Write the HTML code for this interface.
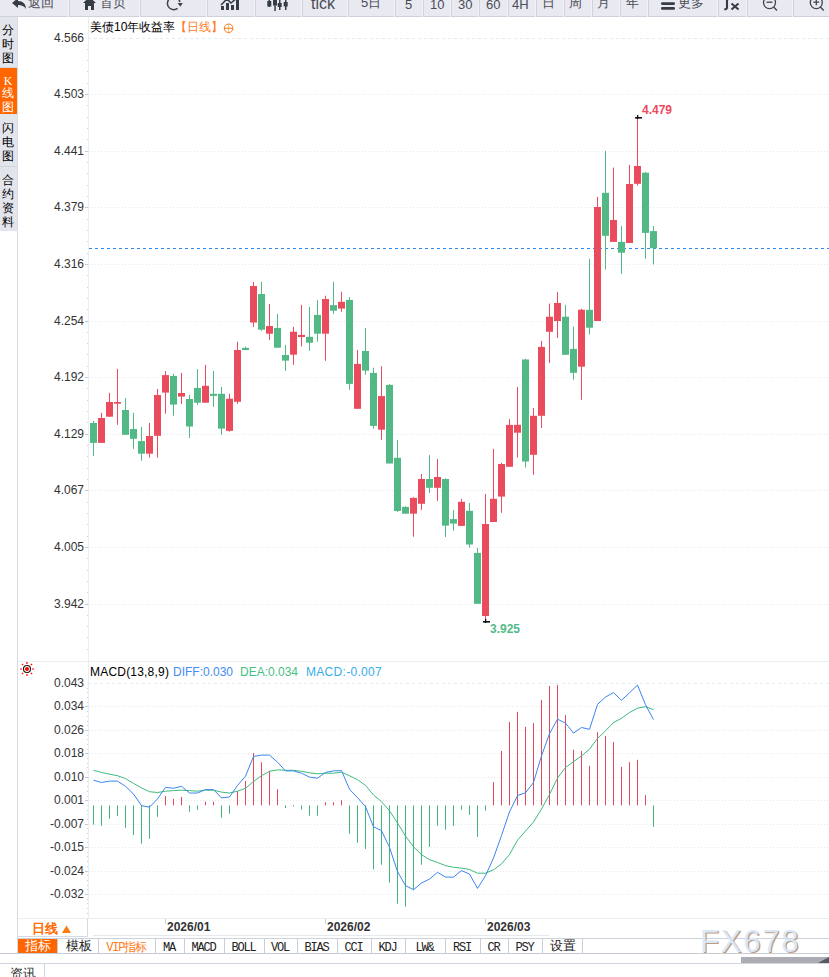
<!DOCTYPE html>
<html><head><meta charset="utf-8"><style>
html,body{margin:0;padding:0;width:829px;height:977px;overflow:hidden;background:#fff;font-family:"Liberation Sans",sans-serif;}
.a{position:absolute;}
svg text.ax{font-family:"Liberation Sans",sans-serif;font-size:12px;fill:#333;text-anchor:end;}
svg text.hl{font-family:"Liberation Sans",sans-serif;font-size:12px;font-weight:bold;}
#tb{left:0;top:0;width:829px;height:16px;background:#e9e9f2;border-bottom:1px solid #d0d1da;overflow:visible;}
#tb .s{position:absolute;top:0;width:1px;height:17px;background:#f2f2f7;border-right:1px solid #d0d1da;}
#tb .t{position:absolute;top:-5px;font-size:13px;color:#4a4d55;line-height:16px;white-space:nowrap;}
#sb{left:0;top:17px;width:17px;height:214px;background:#e3e5ec;border-right:1px solid #d8dce4;}
#sb .c{position:absolute;left:0;width:16px;font-size:12px;line-height:12px;text-align:center;}
</style></head><body>
<div id="tb" class="a">
<div class="s" style="left:68px"></div><div class="s" style="left:139px"></div><div class="s" style="left:206px"></div>
<div class="s" style="left:254px"></div><div class="s" style="left:301px"></div><div class="s" style="left:347px"></div>
<div class="s" style="left:394px"></div><div class="s" style="left:422px"></div><div class="s" style="left:450px"></div>
<div class="s" style="left:478px"></div><div class="s" style="left:507px"></div><div class="s" style="left:535px"></div>
<div class="s" style="left:563px"></div><div class="s" style="left:591px"></div><div class="s" style="left:619px"></div>
<div class="s" style="left:647px"></div><div class="s" style="left:717px"></div><div class="s" style="left:746px"></div>
<div class="s" style="left:792px"></div>
<div class="t" style="left:28px">返回</div>
<div class="t" style="left:100px">首页</div>
<div class="t" style="left:311px;font-size:16px;top:-4px">tick</div>
<div class="t" style="left:361px">5日</div>
<div class="t" style="left:405px;top:-3px">5</div>
<div class="t" style="left:430px;top:-3px">10</div>
<div class="t" style="left:458px;top:-3px">30</div>
<div class="t" style="left:486px;top:-3px">60</div>
<div class="t" style="left:512px;top:-3px">4H</div>
<div class="t" style="left:542px">日</div>
<div class="t" style="left:569px">周</div>
<div class="t" style="left:597px">月</div>
<div class="t" style="left:626px">年</div>
<div class="t" style="left:678px">更多</div>
</div>
<div id="sb" class="a">
<div class="a" style="left:0;top:50px;width:17px;height:1px;background:#d0d4dc"></div>
<div class="a" style="left:0;top:51px;width:17px;height:46px;background:#ff6600"></div>
<div class="a" style="left:0;top:149px;width:17px;height:1px;background:#d0d4dc"></div>
<div class="c" style="top:7px;color:#000;">分</div>
<div class="c" style="top:21px;color:#000;">时</div>
<div class="c" style="top:35px;color:#000;">图</div>
<div class="c" style="top:58px;color:#fff;font-family:'Liberation Serif',serif;">K</div>
<div class="c" style="top:70px;color:#fff;">线</div>
<div class="c" style="top:84px;color:#fff;">图</div>
<div class="c" style="top:105px;color:#000;">闪</div>
<div class="c" style="top:119px;color:#000;">电</div>
<div class="c" style="top:133px;color:#000;">图</div>
<div class="c" style="top:157px;color:#000;">合</div>
<div class="c" style="top:171px;color:#000;">约</div>
<div class="c" style="top:185px;color:#000;">资</div>
<div class="c" style="top:199px;color:#000;">料</div>
</div>
<svg class="a" style="left:0;top:0" width="829" height="977">
<rect x="88" y="17" width="1" height="901" fill="#eaeef3"/>
<line x1="88" y1="38.5" x2="829" y2="38.5" stroke="#e3e9ee" stroke-dasharray="3,3"/>
<text x="84" y="42" class="ax">4.566</text>
<line x1="89" y1="94.5" x2="829" y2="94.5" stroke="#e3e9ee" stroke-dasharray="1,2"/>
<rect x="85" y="94" width="3" height="1" fill="#c4cad3"/>
<text x="84" y="98" class="ax">4.503</text>
<line x1="89" y1="151.5" x2="829" y2="151.5" stroke="#e3e9ee" stroke-dasharray="1,2"/>
<rect x="85" y="151" width="3" height="1" fill="#c4cad3"/>
<text x="84" y="155" class="ax">4.441</text>
<line x1="89" y1="207.5" x2="829" y2="207.5" stroke="#e3e9ee" stroke-dasharray="1,2"/>
<rect x="85" y="207" width="3" height="1" fill="#c4cad3"/>
<text x="84" y="211" class="ax">4.379</text>
<line x1="89" y1="264.5" x2="829" y2="264.5" stroke="#e3e9ee" stroke-dasharray="1,2"/>
<rect x="85" y="264" width="3" height="1" fill="#c4cad3"/>
<text x="84" y="268" class="ax">4.316</text>
<line x1="89" y1="321.5" x2="829" y2="321.5" stroke="#e3e9ee" stroke-dasharray="1,2"/>
<rect x="85" y="321" width="3" height="1" fill="#c4cad3"/>
<text x="84" y="325" class="ax">4.254</text>
<line x1="89" y1="377.5" x2="829" y2="377.5" stroke="#e3e9ee" stroke-dasharray="1,2"/>
<rect x="85" y="377" width="3" height="1" fill="#c4cad3"/>
<text x="84" y="381" class="ax">4.192</text>
<line x1="89" y1="434.5" x2="829" y2="434.5" stroke="#e3e9ee" stroke-dasharray="1,2"/>
<rect x="85" y="434" width="3" height="1" fill="#c4cad3"/>
<text x="84" y="438" class="ax">4.129</text>
<line x1="89" y1="490.5" x2="829" y2="490.5" stroke="#e3e9ee" stroke-dasharray="1,2"/>
<rect x="85" y="490" width="3" height="1" fill="#c4cad3"/>
<text x="84" y="494" class="ax">4.067</text>
<line x1="89" y1="547.5" x2="829" y2="547.5" stroke="#e3e9ee" stroke-dasharray="1,2"/>
<rect x="85" y="547" width="3" height="1" fill="#c4cad3"/>
<text x="84" y="551" class="ax">4.005</text>
<line x1="89" y1="604.5" x2="829" y2="604.5" stroke="#e3e9ee" stroke-dasharray="1,2"/>
<rect x="85" y="604" width="3" height="1" fill="#c4cad3"/>
<text x="84" y="608" class="ax">3.942</text>
<rect x="87" y="49" width="1" height="1" fill="#cdd2da"/>
<rect x="87" y="60" width="1" height="1" fill="#cdd2da"/>
<rect x="87" y="71" width="1" height="1" fill="#cdd2da"/>
<rect x="87" y="83" width="1" height="1" fill="#cdd2da"/>
<rect x="87" y="105" width="1" height="1" fill="#cdd2da"/>
<rect x="87" y="117" width="1" height="1" fill="#cdd2da"/>
<rect x="87" y="128" width="1" height="1" fill="#cdd2da"/>
<rect x="87" y="139" width="1" height="1" fill="#cdd2da"/>
<rect x="87" y="162" width="1" height="1" fill="#cdd2da"/>
<rect x="87" y="173" width="1" height="1" fill="#cdd2da"/>
<rect x="87" y="185" width="1" height="1" fill="#cdd2da"/>
<rect x="87" y="196" width="1" height="1" fill="#cdd2da"/>
<rect x="87" y="219" width="1" height="1" fill="#cdd2da"/>
<rect x="87" y="230" width="1" height="1" fill="#cdd2da"/>
<rect x="87" y="241" width="1" height="1" fill="#cdd2da"/>
<rect x="87" y="253" width="1" height="1" fill="#cdd2da"/>
<rect x="87" y="275" width="1" height="1" fill="#cdd2da"/>
<rect x="87" y="287" width="1" height="1" fill="#cdd2da"/>
<rect x="87" y="298" width="1" height="1" fill="#cdd2da"/>
<rect x="87" y="309" width="1" height="1" fill="#cdd2da"/>
<rect x="87" y="332" width="1" height="1" fill="#cdd2da"/>
<rect x="87" y="343" width="1" height="1" fill="#cdd2da"/>
<rect x="87" y="354" width="1" height="1" fill="#cdd2da"/>
<rect x="87" y="366" width="1" height="1" fill="#cdd2da"/>
<rect x="87" y="388" width="1" height="1" fill="#cdd2da"/>
<rect x="87" y="400" width="1" height="1" fill="#cdd2da"/>
<rect x="87" y="411" width="1" height="1" fill="#cdd2da"/>
<rect x="87" y="422" width="1" height="1" fill="#cdd2da"/>
<rect x="87" y="445" width="1" height="1" fill="#cdd2da"/>
<rect x="87" y="456" width="1" height="1" fill="#cdd2da"/>
<rect x="87" y="468" width="1" height="1" fill="#cdd2da"/>
<rect x="87" y="479" width="1" height="1" fill="#cdd2da"/>
<rect x="87" y="502" width="1" height="1" fill="#cdd2da"/>
<rect x="87" y="513" width="1" height="1" fill="#cdd2da"/>
<rect x="87" y="524" width="1" height="1" fill="#cdd2da"/>
<rect x="87" y="536" width="1" height="1" fill="#cdd2da"/>
<rect x="87" y="558" width="1" height="1" fill="#cdd2da"/>
<rect x="87" y="570" width="1" height="1" fill="#cdd2da"/>
<rect x="87" y="581" width="1" height="1" fill="#cdd2da"/>
<rect x="87" y="592" width="1" height="1" fill="#cdd2da"/>
<rect x="87" y="615" width="1" height="1" fill="#cdd2da"/>
<rect x="87" y="626" width="1" height="1" fill="#cdd2da"/>
<rect x="87" y="637" width="1" height="1" fill="#cdd2da"/>
<rect x="87" y="649" width="1" height="1" fill="#cdd2da"/>
<line x1="89" y1="248.5" x2="829" y2="248.5" stroke="#2a8cf0" stroke-dasharray="3,3" stroke-width="1"/>
<rect x="93" y="420.9" width="1" height="35" fill="#52b886"/>
<rect x="90" y="423" width="7" height="19.9" fill="#52b886"/>
<rect x="101" y="412.8" width="1" height="30.1" fill="#ea4c5e"/>
<rect x="98" y="418" width="7" height="24.9" fill="#ea4c5e"/>
<rect x="109" y="392.8" width="1" height="23.9" fill="#ea4c5e"/>
<rect x="106" y="402" width="7" height="14.7" fill="#ea4c5e"/>
<rect x="117" y="368.8" width="1" height="56" fill="#ea4c5e"/>
<rect x="114" y="402" width="7" height="1.7" fill="#ea4c5e"/>
<rect x="125" y="398" width="1" height="36.8" fill="#52b886"/>
<rect x="122" y="410" width="7" height="24.8" fill="#52b886"/>
<rect x="133" y="412.8" width="1" height="36.1" fill="#52b886"/>
<rect x="130" y="429" width="7" height="9.8" fill="#52b886"/>
<rect x="141" y="427" width="1" height="33.7" fill="#52b886"/>
<rect x="138" y="441.1" width="7" height="12.6" fill="#52b886"/>
<rect x="149" y="423" width="1" height="34.7" fill="#ea4c5e"/>
<rect x="146" y="436" width="7" height="17.7" fill="#ea4c5e"/>
<rect x="157" y="389" width="1" height="68.7" fill="#ea4c5e"/>
<rect x="154" y="395" width="7" height="40.8" fill="#ea4c5e"/>
<rect x="165" y="371.1" width="1" height="42.6" fill="#ea4c5e"/>
<rect x="162" y="375.1" width="7" height="17.5" fill="#ea4c5e"/>
<rect x="173" y="373.9" width="1" height="41.8" fill="#52b886"/>
<rect x="170" y="375.9" width="7" height="28.7" fill="#52b886"/>
<rect x="181" y="373" width="1" height="31" fill="#ea4c5e"/>
<rect x="178" y="393" width="7" height="3.6" fill="#ea4c5e"/>
<rect x="189" y="394.9" width="1" height="42.9" fill="#52b886"/>
<rect x="186" y="399" width="7" height="27.5" fill="#52b886"/>
<rect x="197" y="369.1" width="1" height="35.7" fill="#52b886"/>
<rect x="194" y="387.9" width="7" height="14.8" fill="#52b886"/>
<rect x="205" y="364.8" width="1" height="37.9" fill="#ea4c5e"/>
<rect x="202" y="385.8" width="7" height="16.9" fill="#ea4c5e"/>
<rect x="213" y="370.9" width="1" height="36" fill="#52b886"/>
<rect x="210" y="393.8" width="7" height="2.1" fill="#52b886"/>
<rect x="221" y="386.9" width="1" height="48" fill="#52b886"/>
<rect x="218" y="393.8" width="7" height="34.8" fill="#52b886"/>
<rect x="229" y="393.8" width="1" height="37.9" fill="#ea4c5e"/>
<rect x="226" y="398.7" width="7" height="32.2" fill="#ea4c5e"/>
<rect x="237" y="341.8" width="1" height="62.1" fill="#ea4c5e"/>
<rect x="234" y="350" width="7" height="51.8" fill="#ea4c5e"/>
<rect x="245" y="346.5" width="1" height="3.5" fill="#52b886"/>
<rect x="242" y="347.9" width="7" height="2.1" fill="#52b886"/>
<rect x="253" y="281.8" width="1" height="45.1" fill="#ea4c5e"/>
<rect x="250" y="286" width="7" height="36.5" fill="#ea4c5e"/>
<rect x="261" y="281.8" width="1" height="49.1" fill="#52b886"/>
<rect x="258" y="294" width="7" height="35.7" fill="#52b886"/>
<rect x="269" y="303.9" width="1" height="36" fill="#ea4c5e"/>
<rect x="266" y="326" width="7" height="7.7" fill="#ea4c5e"/>
<rect x="277" y="314" width="1" height="33.7" fill="#52b886"/>
<rect x="274" y="327.9" width="7" height="19.8" fill="#52b886"/>
<rect x="285" y="344.8" width="1" height="26.1" fill="#52b886"/>
<rect x="282" y="355" width="7" height="5.6" fill="#52b886"/>
<rect x="293" y="326.9" width="1" height="37.9" fill="#ea4c5e"/>
<rect x="290" y="331.7" width="7" height="23" fill="#ea4c5e"/>
<rect x="301" y="304.8" width="1" height="41.7" fill="#ea4c5e"/>
<rect x="298" y="334.9" width="7" height="2.1" fill="#ea4c5e"/>
<rect x="309" y="306.9" width="1" height="44" fill="#52b886"/>
<rect x="306" y="336.8" width="7" height="5.9" fill="#52b886"/>
<rect x="317" y="299.9" width="1" height="41.8" fill="#52b886"/>
<rect x="314" y="314.9" width="7" height="18.8" fill="#52b886"/>
<rect x="325" y="295.7" width="1" height="65.1" fill="#ea4c5e"/>
<rect x="322" y="299" width="7" height="34.7" fill="#ea4c5e"/>
<rect x="333" y="281.8" width="1" height="32" fill="#52b886"/>
<rect x="330" y="305.1" width="7" height="5.6" fill="#52b886"/>
<rect x="341" y="291.7" width="1" height="20" fill="#ea4c5e"/>
<rect x="338" y="301.8" width="7" height="6.8" fill="#ea4c5e"/>
<rect x="349" y="297" width="1" height="92.7" fill="#52b886"/>
<rect x="346" y="299.9" width="7" height="84" fill="#52b886"/>
<rect x="357" y="350" width="1" height="58.8" fill="#ea4c5e"/>
<rect x="354" y="363.9" width="7" height="44.9" fill="#ea4c5e"/>
<rect x="365" y="328.1" width="1" height="46.6" fill="#52b886"/>
<rect x="362" y="351" width="7" height="19.6" fill="#52b886"/>
<rect x="373" y="367.7" width="1" height="60.9" fill="#52b886"/>
<rect x="370" y="372.9" width="7" height="53" fill="#52b886"/>
<rect x="381" y="366.2" width="1" height="73.6" fill="#ea4c5e"/>
<rect x="378" y="396.1" width="7" height="33.6" fill="#ea4c5e"/>
<rect x="389" y="384" width="1" height="79.5" fill="#52b886"/>
<rect x="386" y="384.9" width="7" height="78.6" fill="#52b886"/>
<rect x="397" y="440" width="1" height="71.9" fill="#52b886"/>
<rect x="394" y="457.8" width="7" height="53.2" fill="#52b886"/>
<rect x="405" y="506.3" width="1" height="7.4" fill="#52b886"/>
<rect x="402" y="506.9" width="7" height="6.8" fill="#52b886"/>
<rect x="413" y="497.3" width="1" height="39.4" fill="#ea4c5e"/>
<rect x="410" y="497.9" width="7" height="15.8" fill="#ea4c5e"/>
<rect x="421" y="474" width="1" height="35.9" fill="#ea4c5e"/>
<rect x="418" y="479" width="7" height="24.8" fill="#ea4c5e"/>
<rect x="429" y="455.1" width="1" height="37.9" fill="#52b886"/>
<rect x="426" y="479" width="7" height="8.8" fill="#52b886"/>
<rect x="437" y="459" width="1" height="41.9" fill="#ea4c5e"/>
<rect x="434" y="477" width="7" height="10.8" fill="#ea4c5e"/>
<rect x="445" y="478.3" width="1" height="58.7" fill="#52b886"/>
<rect x="442" y="479" width="7" height="46.6" fill="#52b886"/>
<rect x="453" y="510.1" width="1" height="20.7" fill="#52b886"/>
<rect x="450" y="519.1" width="7" height="4.5" fill="#52b886"/>
<rect x="461" y="498.8" width="1" height="27.1" fill="#ea4c5e"/>
<rect x="458" y="501.8" width="7" height="24.1" fill="#ea4c5e"/>
<rect x="469" y="502.9" width="1" height="44.8" fill="#52b886"/>
<rect x="466" y="510.8" width="7" height="33.7" fill="#52b886"/>
<rect x="477" y="547.9" width="1" height="55.9" fill="#52b886"/>
<rect x="474" y="552.9" width="7" height="50.9" fill="#52b886"/>
<rect x="485" y="493.9" width="1" height="127.1" fill="#ea4c5e"/>
<rect x="482" y="524" width="7" height="92" fill="#ea4c5e"/>
<rect x="493" y="448.8" width="1" height="73.2" fill="#ea4c5e"/>
<rect x="490" y="498.8" width="7" height="23.2" fill="#ea4c5e"/>
<rect x="501" y="462.8" width="1" height="50" fill="#ea4c5e"/>
<rect x="498" y="464" width="7" height="32.6" fill="#ea4c5e"/>
<rect x="509" y="419.2" width="1" height="47.6" fill="#ea4c5e"/>
<rect x="506" y="424.9" width="7" height="41.9" fill="#ea4c5e"/>
<rect x="517" y="387" width="1" height="70.5" fill="#ea4c5e"/>
<rect x="514" y="424.8" width="7" height="7.9" fill="#ea4c5e"/>
<rect x="525" y="358.8" width="1" height="108.8" fill="#52b886"/>
<rect x="522" y="359.5" width="7" height="102" fill="#52b886"/>
<rect x="533" y="407.9" width="1" height="66.9" fill="#ea4c5e"/>
<rect x="530" y="415.8" width="7" height="39" fill="#ea4c5e"/>
<rect x="541" y="340.8" width="1" height="87.2" fill="#ea4c5e"/>
<rect x="538" y="346.9" width="7" height="68.9" fill="#ea4c5e"/>
<rect x="549" y="303.6" width="1" height="59.3" fill="#ea4c5e"/>
<rect x="546" y="316.7" width="7" height="15.1" fill="#ea4c5e"/>
<rect x="557" y="291.9" width="1" height="46" fill="#ea4c5e"/>
<rect x="554" y="303" width="7" height="18" fill="#ea4c5e"/>
<rect x="565" y="304.8" width="1" height="50" fill="#52b886"/>
<rect x="562" y="316.7" width="7" height="38.1" fill="#52b886"/>
<rect x="573" y="326.8" width="1" height="53" fill="#52b886"/>
<rect x="570" y="348.9" width="7" height="23.9" fill="#52b886"/>
<rect x="581" y="308.8" width="1" height="91" fill="#ea4c5e"/>
<rect x="578" y="309.7" width="7" height="57" fill="#ea4c5e"/>
<rect x="589" y="258.8" width="1" height="75.7" fill="#52b886"/>
<rect x="586" y="309.8" width="7" height="17.9" fill="#52b886"/>
<rect x="597" y="196.8" width="1" height="124.2" fill="#ea4c5e"/>
<rect x="594" y="207" width="7" height="114" fill="#ea4c5e"/>
<rect x="605" y="150.9" width="1" height="118.7" fill="#52b886"/>
<rect x="602" y="192.8" width="7" height="43" fill="#52b886"/>
<rect x="613" y="167.6" width="1" height="74.3" fill="#ea4c5e"/>
<rect x="610" y="220" width="7" height="21.9" fill="#ea4c5e"/>
<rect x="621" y="226.1" width="1" height="47.8" fill="#52b886"/>
<rect x="618" y="241.9" width="7" height="10.8" fill="#52b886"/>
<rect x="629" y="164.9" width="1" height="78.1" fill="#ea4c5e"/>
<rect x="626" y="184" width="7" height="59" fill="#ea4c5e"/>
<rect x="637" y="118" width="1" height="67.6" fill="#ea4c5e"/>
<rect x="634" y="166" width="7" height="17.8" fill="#ea4c5e"/>
<rect x="645" y="172" width="1" height="86.8" fill="#52b886"/>
<rect x="642" y="172.7" width="7" height="60.2" fill="#52b886"/>
<rect x="653" y="226.1" width="1" height="38.3" fill="#52b886"/>
<rect x="650" y="231.1" width="7" height="17.1" fill="#52b886"/>
<rect x="635" y="117" width="7" height="1.6" fill="#111"/><rect x="637" y="115" width="1.3" height="4" fill="#111"/>
<text x="642" y="114" class="hl" fill="#ee4a5d">4.479</text>
<rect x="483" y="621" width="7" height="1.6" fill="#111"/><rect x="485" y="619" width="1.3" height="4" fill="#111"/>
<text x="490" y="633" class="hl" fill="#55b98a">3.925</text>
<rect x="17" y="661" width="812" height="1" fill="#ebeff3"/>
<line x1="88" y1="683.5" x2="829" y2="683.5" stroke="#e3e9ee" stroke-dasharray="3,3"/>
<text x="84" y="687" class="ax">0.043</text>
<line x1="89" y1="706.5" x2="829" y2="706.5" stroke="#e3e9ee" stroke-dasharray="1,2"/>
<rect x="85" y="706" width="3" height="1" fill="#c4cad3"/>
<text x="84" y="710" class="ax">0.034</text>
<line x1="89" y1="730.5" x2="829" y2="730.5" stroke="#e3e9ee" stroke-dasharray="1,2"/>
<rect x="85" y="730" width="3" height="1" fill="#c4cad3"/>
<text x="84" y="734" class="ax">0.026</text>
<line x1="89" y1="753.5" x2="829" y2="753.5" stroke="#e3e9ee" stroke-dasharray="1,2"/>
<rect x="85" y="753" width="3" height="1" fill="#c4cad3"/>
<text x="84" y="757" class="ax">0.018</text>
<line x1="89" y1="777.5" x2="829" y2="777.5" stroke="#e3e9ee" stroke-dasharray="1,2"/>
<rect x="85" y="777" width="3" height="1" fill="#c4cad3"/>
<text x="84" y="781" class="ax">0.010</text>
<line x1="89" y1="800.5" x2="829" y2="800.5" stroke="#e3e9ee" stroke-dasharray="1,2"/>
<rect x="85" y="800" width="3" height="1" fill="#c4cad3"/>
<text x="84" y="804" class="ax">0.001</text>
<line x1="89" y1="824.5" x2="829" y2="824.5" stroke="#e3e9ee" stroke-dasharray="1,2"/>
<rect x="85" y="824" width="3" height="1" fill="#c4cad3"/>
<text x="84" y="828" class="ax">-0.007</text>
<line x1="89" y1="847.5" x2="829" y2="847.5" stroke="#e3e9ee" stroke-dasharray="1,2"/>
<rect x="85" y="847" width="3" height="1" fill="#c4cad3"/>
<text x="84" y="851" class="ax">-0.015</text>
<line x1="89" y1="871.5" x2="829" y2="871.5" stroke="#e3e9ee" stroke-dasharray="1,2"/>
<rect x="85" y="871" width="3" height="1" fill="#c4cad3"/>
<text x="84" y="875" class="ax">-0.024</text>
<line x1="89" y1="894.5" x2="829" y2="894.5" stroke="#e3e9ee" stroke-dasharray="1,2"/>
<rect x="85" y="894" width="3" height="1" fill="#c4cad3"/>
<text x="84" y="898" class="ax">-0.032</text>
<rect x="87" y="688" width="1" height="1" fill="#cdd2da"/>
<rect x="87" y="692" width="1" height="1" fill="#cdd2da"/>
<rect x="87" y="697" width="1" height="1" fill="#cdd2da"/>
<rect x="87" y="702" width="1" height="1" fill="#cdd2da"/>
<rect x="87" y="711" width="1" height="1" fill="#cdd2da"/>
<rect x="87" y="716" width="1" height="1" fill="#cdd2da"/>
<rect x="87" y="721" width="1" height="1" fill="#cdd2da"/>
<rect x="87" y="725" width="1" height="1" fill="#cdd2da"/>
<rect x="87" y="735" width="1" height="1" fill="#cdd2da"/>
<rect x="87" y="739" width="1" height="1" fill="#cdd2da"/>
<rect x="87" y="744" width="1" height="1" fill="#cdd2da"/>
<rect x="87" y="749" width="1" height="1" fill="#cdd2da"/>
<rect x="87" y="758" width="1" height="1" fill="#cdd2da"/>
<rect x="87" y="763" width="1" height="1" fill="#cdd2da"/>
<rect x="87" y="767" width="1" height="1" fill="#cdd2da"/>
<rect x="87" y="772" width="1" height="1" fill="#cdd2da"/>
<rect x="87" y="781" width="1" height="1" fill="#cdd2da"/>
<rect x="87" y="786" width="1" height="1" fill="#cdd2da"/>
<rect x="87" y="791" width="1" height="1" fill="#cdd2da"/>
<rect x="87" y="796" width="1" height="1" fill="#cdd2da"/>
<rect x="87" y="805" width="1" height="1" fill="#cdd2da"/>
<rect x="87" y="810" width="1" height="1" fill="#cdd2da"/>
<rect x="87" y="814" width="1" height="1" fill="#cdd2da"/>
<rect x="87" y="819" width="1" height="1" fill="#cdd2da"/>
<rect x="87" y="828" width="1" height="1" fill="#cdd2da"/>
<rect x="87" y="833" width="1" height="1" fill="#cdd2da"/>
<rect x="87" y="838" width="1" height="1" fill="#cdd2da"/>
<rect x="87" y="842" width="1" height="1" fill="#cdd2da"/>
<rect x="87" y="852" width="1" height="1" fill="#cdd2da"/>
<rect x="87" y="856" width="1" height="1" fill="#cdd2da"/>
<rect x="87" y="861" width="1" height="1" fill="#cdd2da"/>
<rect x="87" y="866" width="1" height="1" fill="#cdd2da"/>
<rect x="87" y="875" width="1" height="1" fill="#cdd2da"/>
<rect x="87" y="880" width="1" height="1" fill="#cdd2da"/>
<rect x="87" y="885" width="1" height="1" fill="#cdd2da"/>
<rect x="87" y="889" width="1" height="1" fill="#cdd2da"/>
<rect x="87" y="899" width="1" height="1" fill="#cdd2da"/>
<rect x="87" y="903" width="1" height="1" fill="#cdd2da"/>
<rect x="87" y="908" width="1" height="1" fill="#cdd2da"/>
<rect x="87" y="913" width="1" height="1" fill="#cdd2da"/>
<rect x="93" y="805.3" width="1" height="19.3" fill="#45b57c"/>
<rect x="101" y="805.3" width="1" height="20.6" fill="#45b57c"/>
<rect x="109" y="805.3" width="1" height="13.5" fill="#45b57c"/>
<rect x="117" y="805.3" width="1" height="10.6" fill="#45b57c"/>
<rect x="125" y="805.3" width="1" height="22.5" fill="#45b57c"/>
<rect x="133" y="805.3" width="1" height="29.7" fill="#45b57c"/>
<rect x="141" y="805.3" width="1" height="38.4" fill="#45b57c"/>
<rect x="149" y="805.3" width="1" height="33.5" fill="#45b57c"/>
<rect x="157" y="805.3" width="1" height="11.5" fill="#45b57c"/>
<rect x="165" y="796" width="1" height="9.3" fill="#e8475b"/>
<rect x="173" y="798.9" width="1" height="6.4" fill="#e8475b"/>
<rect x="181" y="797" width="1" height="8.3" fill="#e8475b"/>
<rect x="189" y="805.3" width="1" height="6.5" fill="#45b57c"/>
<rect x="197" y="805.3" width="1" height="4.6" fill="#45b57c"/>
<rect x="205" y="801.8" width="1" height="3.5" fill="#e8475b"/>
<rect x="213" y="801.8" width="1" height="3.5" fill="#e8475b"/>
<rect x="221" y="805.3" width="1" height="12.5" fill="#45b57c"/>
<rect x="229" y="805.3" width="1" height="8.4" fill="#45b57c"/>
<rect x="237" y="791.2" width="1" height="14.1" fill="#e8475b"/>
<rect x="245" y="780.9" width="1" height="24.4" fill="#e8475b"/>
<rect x="253" y="753.1" width="1" height="52.2" fill="#e8475b"/>
<rect x="261" y="762.2" width="1" height="43.1" fill="#e8475b"/>
<rect x="269" y="770.9" width="1" height="34.4" fill="#e8475b"/>
<rect x="277" y="789.2" width="1" height="16.1" fill="#e8475b"/>
<rect x="285" y="805.3" width="1" height="2.7" fill="#45b57c"/>
<rect x="293" y="805.3" width="1" height="1.3" fill="#45b57c"/>
<rect x="301" y="805.3" width="1" height="4.2" fill="#45b57c"/>
<rect x="309" y="805.3" width="1" height="10.4" fill="#45b57c"/>
<rect x="317" y="805.3" width="1" height="10.4" fill="#45b57c"/>
<rect x="325" y="802.2" width="1" height="3.1" fill="#e8475b"/>
<rect x="333" y="802.2" width="1" height="3.1" fill="#e8475b"/>
<rect x="341" y="800.2" width="1" height="5.1" fill="#e8475b"/>
<rect x="349" y="805.3" width="1" height="28.4" fill="#45b57c"/>
<rect x="357" y="805.3" width="1" height="37.5" fill="#45b57c"/>
<rect x="365" y="805.3" width="1" height="43.6" fill="#45b57c"/>
<rect x="373" y="805.3" width="1" height="64.2" fill="#45b57c"/>
<rect x="381" y="805.3" width="1" height="59.5" fill="#45b57c"/>
<rect x="389" y="805.3" width="1" height="77.4" fill="#45b57c"/>
<rect x="397" y="805.3" width="1" height="98.4" fill="#45b57c"/>
<rect x="405" y="805.3" width="1" height="101.4" fill="#45b57c"/>
<rect x="413" y="805.3" width="1" height="84.8" fill="#45b57c"/>
<rect x="421" y="805.3" width="1" height="59.4" fill="#45b57c"/>
<rect x="429" y="805.3" width="1" height="41.7" fill="#45b57c"/>
<rect x="437" y="805.3" width="1" height="20.6" fill="#45b57c"/>
<rect x="445" y="805.3" width="1" height="24.3" fill="#45b57c"/>
<rect x="453" y="805.3" width="1" height="20.6" fill="#45b57c"/>
<rect x="461" y="805.3" width="1" height="4.5" fill="#45b57c"/>
<rect x="469" y="805.3" width="1" height="9.6" fill="#45b57c"/>
<rect x="477" y="805.3" width="1" height="31.6" fill="#45b57c"/>
<rect x="485" y="805.3" width="1" height="5.4" fill="#45b57c"/>
<rect x="493" y="782.1" width="1" height="23.2" fill="#e8475b"/>
<rect x="501" y="751" width="1" height="54.3" fill="#e8475b"/>
<rect x="509" y="721.9" width="1" height="83.4" fill="#e8475b"/>
<rect x="517" y="711.8" width="1" height="93.5" fill="#e8475b"/>
<rect x="525" y="726.9" width="1" height="78.4" fill="#e8475b"/>
<rect x="533" y="723" width="1" height="82.3" fill="#e8475b"/>
<rect x="541" y="699.9" width="1" height="105.4" fill="#e8475b"/>
<rect x="549" y="686" width="1" height="119.3" fill="#e8475b"/>
<rect x="557" y="684.9" width="1" height="120.4" fill="#e8475b"/>
<rect x="565" y="715" width="1" height="90.3" fill="#e8475b"/>
<rect x="573" y="749.7" width="1" height="55.6" fill="#e8475b"/>
<rect x="581" y="751.1" width="1" height="54.2" fill="#e8475b"/>
<rect x="589" y="765.9" width="1" height="39.4" fill="#e8475b"/>
<rect x="597" y="732.2" width="1" height="73.1" fill="#e8475b"/>
<rect x="605" y="736" width="1" height="69.3" fill="#e8475b"/>
<rect x="613" y="742" width="1" height="63.3" fill="#e8475b"/>
<rect x="621" y="766.9" width="1" height="38.4" fill="#e8475b"/>
<rect x="629" y="762.1" width="1" height="43.2" fill="#e8475b"/>
<rect x="637" y="759.8" width="1" height="45.5" fill="#e8475b"/>
<rect x="645" y="795.1" width="1" height="10.2" fill="#e8475b"/>
<rect x="653" y="805.3" width="1" height="21.5" fill="#45b57c"/>
<polyline points="93.5,770.3 101.5,772.4 109.5,774.2 117.5,775.7 125.5,778.6 133.5,783.4 141.5,787.9 149.5,791.7 157.5,792.5 165.5,791.2 173.5,790.6 181.5,790.2 189.5,790.6 197.5,791.2 205.5,790.2 213.5,790.2 221.5,792.1 229.5,793.0 237.5,791.2 245.5,788.3 253.5,781.5 261.5,775.7 269.5,771.3 277.5,769.9 285.5,770.3 293.5,770.3 301.5,771.3 309.5,772.8 317.5,773.8 325.5,773.2 333.5,773.2 341.5,772.2 349.5,775.8 357.5,779.7 365.5,785.4 373.5,795.0 381.5,801.6 389.5,810.8 397.5,822.9 405.5,836.1 413.5,846.8 421.5,854.6 429.5,859.7 437.5,862.5 445.5,865.6 453.5,867.3 461.5,868.1 469.5,869.5 477.5,873.2 485.5,873.2 493.5,869.8 501.5,863.9 509.5,854.6 517.5,840.2 525.5,831.0 533.5,822.0 541.5,809.0 549.5,794.5 557.5,778.1 565.5,767.5 573.5,761.7 581.5,755.9 589.5,749.2 597.5,738.5 605.5,730.8 613.5,722.5 621.5,718.3 629.5,712.5 637.5,708.2 645.5,706.7 653.5,709.6" fill="none" stroke="#3cbb7c" stroke-width="1"/>
<polyline points="93.5,780.2 101.5,782.5 109.5,781.1 117.5,781.1 125.5,786.3 133.5,794.0 141.5,805.6 149.5,807.2 157.5,798.9 165.5,787.3 173.5,788.3 181.5,786.3 189.5,793.0 197.5,793.0 205.5,789.6 213.5,789.6 221.5,797.9 229.5,797.0 237.5,785.4 245.5,776.2 253.5,756.4 261.5,755.1 269.5,755.1 277.5,762.2 285.5,770.9 293.5,770.9 301.5,773.2 309.5,777.1 317.5,778.2 325.5,772.4 333.5,770.9 341.5,770.6 349.5,789.3 357.5,797.6 365.5,806.7 373.5,826.8 381.5,830.6 389.5,847.4 397.5,871.6 405.5,885.6 413.5,889.7 421.5,883.0 429.5,879.1 437.5,872.3 445.5,877.1 453.5,877.1 461.5,870.6 469.5,874.0 477.5,888.4 485.5,875.7 493.5,858.0 501.5,835.5 509.5,811.9 517.5,795.5 525.5,792.8 533.5,782.5 541.5,755.9 549.5,733.7 557.5,719.2 565.5,723.1 573.5,733.1 581.5,727.5 589.5,729.3 597.5,704.4 605.5,697.0 613.5,692.6 621.5,700.3 629.5,692.8 637.5,685.1 645.5,704.7 653.5,719.6" fill="none" stroke="#3a86f0" stroke-width="1"/>
<rect x="17" y="918" width="812" height="1" fill="#e9eef3"/>
</svg>
<div class="a" style="left:90px;top:19px;font-size:12px;color:#000;font-weight:500;white-space:nowrap">美债10年收益率<span style="color:#ff7a1a">【日线】</span></div>
<div class="a" style="left:90px;top:665px;font-size:12px;white-space:nowrap;color:#000;letter-spacing:0.2px">MACD(13,8,9)</div>
<div class="a" style="left:173px;top:665px;font-size:12px;white-space:nowrap;color:#3f8cf2">DIFF:0.030</div>
<div class="a" style="left:240px;top:665px;font-size:12px;white-space:nowrap;color:#45bf85">DEA:0.034</div>
<div class="a" style="left:306px;top:665px;font-size:12px;white-space:nowrap;color:#36ade8;letter-spacing:0.3px">MACD:-0.007</div>

<!-- toolbar icons -->
<svg class="a" style="left:0;top:0" width="829" height="17">
<path d="M12 3 L18 -2 L18 1 C23 1 26 4 26 9 C24 6 22 5 18 5 L18 8 Z" fill="#363c46"/>
<path d="M83 3 L89.5 -3 L96 3 L94 3 L94 10 L91 10 L91 6 L88 6 L88 10 L85 10 L85 3 Z" fill="#363c46"/>
<path d="M177.6 8.4 A6.3 6.3 0 1 1 179.9 2" fill="none" stroke="#3d424b" stroke-width="1.5"/>
<path d="M177.6 3 L182.8 3 L180.3 6.8 Z" fill="#3d424b"/>
<path d="M221 10 L221 6 L224 6 L224 10 Z M226 10 L226 3 L229 3 L229 10 Z M231 10 L231 5 L234 5 L234 10 Z M236 10 L236 0 L239 0 L239 10 Z" fill="#363c46"/>
<path d="M221 5 L227 -1 L231 3 L238 -3" fill="none" stroke="#363c46" stroke-width="1.6"/>
<rect x="268.5" y="-2" width="1.5" height="9" fill="#363c46"/><rect x="274.3" y="-2" width="1.5" height="13" fill="#363c46"/><rect x="279" y="-2" width="1.5" height="12" fill="#363c46"/><rect x="285" y="-2" width="1.5" height="12" fill="#363c46"/>
<path d="M267.3 1 h4 v5.5 h-4z M273 -1 h4 v6.5 h-4z M277.7 3 h4 v4 h-4z M283.7 2 h4 v4.5 h-4z" fill="#363c46"/>
<path d="M662.3 3.6 h11.4 M662.3 8.4 h11.4" stroke="#363c46" stroke-width="2.7" stroke-linecap="round"/>
<path d="M729.5 -1.5 Q727 -1.5 727 1 L727 7.5 Q727 9.5 724.3 9.3" fill="none" stroke="#363c46" stroke-width="2.1"/>
<path d="M731.5 3.5 L738.5 9.5 M738.5 3.5 L731.5 9.5" stroke="#363c46" stroke-width="2"/>
<circle cx="769.5" cy="2.6" r="6" fill="none" stroke="#40454e" stroke-width="1.3"/>
<path d="M773.6 7 L777 10.5" stroke="#40454e" stroke-width="1.4"/>
<path d="M766.5 2.2 h6" stroke="#40454e" stroke-width="1.3"/>
<circle cx="816.3" cy="2.6" r="6" fill="none" stroke="#40454e" stroke-width="1.3"/>
<path d="M820.4 7 L823.8 10.5" stroke="#40454e" stroke-width="1.4"/>
<path d="M813.3 2.2 h6 M816.3 -0.8 v6" stroke="#40454e" stroke-width="1.3"/>
</svg>
<!-- title icon -->
<svg class="a" style="left:222px;top:22px" width="14" height="14">
<circle cx="6.6" cy="6.3" r="4.3" fill="none" stroke="#ff7a1a" stroke-width="1"/>
<path d="M2.3 6.3 h8.6" stroke="#ff7a1a" stroke-width="1"/><path d="M6.6 2 v8.6" stroke="#ffa050" stroke-width="0.8"/>
</svg>
<!-- macd sun icon -->
<svg class="a" style="left:18px;top:660px" width="18" height="18">
<circle cx="9" cy="9" r="3.5" fill="#fff" stroke="#111" stroke-width="1.1"/><circle cx="9" cy="9" r="2" fill="#ff0000"/>
<path d="M9 2v2M9 14v2M2 9h2M14 9h2M3.8 3.8l1.4 1.4M12.8 12.8l1.4 1.4M3.8 14.2l1.4-1.4M12.8 5.2l1.4-1.4" stroke="#ff0000" stroke-width="1.2"/>
</svg>
<div class="a" style="left:17px;top:231px;width:1px;height:722px;background:#d6dbe3"></div>
<!-- bottom date row -->
<div class="a" style="left:18px;top:918px;width:69px;height:18px;border-right:1px solid #d6dbe3;border-bottom:1px solid #d6dbe3;"></div>
<div class="a" style="left:32px;top:921px;font-size:13px;line-height:16px;color:#ff6a00;font-weight:bold;white-space:nowrap">日线</div><svg class="a" style="left:62px;top:925px" width="10" height="9"><path d="M4.5 0.5 L9 8 L0 8 Z" fill="#ff7a10"/></svg>
<div class="a" style="left:93px;top:935px;width:456px;height:1px;background:#e6e9ee"></div>
<div class="a" style="left:165px;top:919px;width:1px;height:5px;background:#c9ced6"></div>
<div class="a" style="left:325px;top:919px;width:1px;height:5px;background:#c9ced6"></div>
<div class="a" style="left:485px;top:919px;width:1px;height:5px;background:#c9ced6"></div>
<div class="a" style="left:167px;top:920px;font-size:12px;line-height:15px;font-weight:bold;color:#333">2026/01</div>
<div class="a" style="left:327px;top:920px;font-size:12px;line-height:15px;font-weight:bold;color:#333">2026/02</div>
<div class="a" style="left:487px;top:920px;font-size:12px;line-height:15px;font-weight:bold;color:#333">2026/03</div>
<!-- tab row -->
<div class="a" style="left:18px;top:938px;width:811px;height:1px;background:#ccd2db"></div>
<div class="a" style="left:0;top:953px;width:829px;height:1px;background:#c5ccd6"></div>
<div class="a" style="left:18px;top:939px;width:39px;height:14px;background:#ff6600;color:#fff;font-size:13px;line-height:14px;text-align:center">指标</div>
<div class="a" style="left:57px;top:939px;width:41px;height:14px;border-left:1px solid #c9ced8;color:#222;font-size:13px;line-height:14px;text-align:center;font-family:'Liberation Sans',sans-serif">模板</div>
<div class="a" style="left:98px;top:939px;width:57px;height:14px;border-left:1px solid #c9ced8;color:#ff7a1a;font-size:12px;line-height:18px;letter-spacing:-1.2px;text-indent:-3px;text-align:center;font-family:'Liberation Mono',monospace">VIP指标</div>
<div class="a" style="left:155px;top:939px;width:29px;height:14px;border-left:1px solid #c9ced8;color:#222;font-size:12px;line-height:18px;letter-spacing:-1.2px;text-indent:-3px;text-align:center;font-family:'Liberation Mono',monospace">MA</div>
<div class="a" style="left:184px;top:939px;width:40px;height:14px;border-left:1px solid #c9ced8;color:#222;font-size:12px;line-height:18px;letter-spacing:-1.2px;text-indent:-3px;text-align:center;font-family:'Liberation Mono',monospace">MACD</div>
<div class="a" style="left:224px;top:939px;width:40px;height:14px;border-left:1px solid #c9ced8;color:#222;font-size:12px;line-height:18px;letter-spacing:-1.2px;text-indent:-3px;text-align:center;font-family:'Liberation Mono',monospace">BOLL</div>
<div class="a" style="left:264px;top:939px;width:33px;height:14px;border-left:1px solid #c9ced8;color:#222;font-size:12px;line-height:18px;letter-spacing:-1.2px;text-indent:-3px;text-align:center;font-family:'Liberation Mono',monospace">VOL</div>
<div class="a" style="left:297px;top:939px;width:40px;height:14px;border-left:1px solid #c9ced8;color:#222;font-size:12px;line-height:18px;letter-spacing:-1.2px;text-indent:-3px;text-align:center;font-family:'Liberation Mono',monospace">BIAS</div>
<div class="a" style="left:337px;top:939px;width:34px;height:14px;border-left:1px solid #c9ced8;color:#222;font-size:12px;line-height:18px;letter-spacing:-1.2px;text-indent:-3px;text-align:center;font-family:'Liberation Mono',monospace">CCI</div>
<div class="a" style="left:371px;top:939px;width:34px;height:14px;border-left:1px solid #c9ced8;color:#222;font-size:12px;line-height:18px;letter-spacing:-1.2px;text-indent:-3px;text-align:center;font-family:'Liberation Mono',monospace">KDJ</div>
<div class="a" style="left:405px;top:939px;width:40px;height:14px;border-left:1px solid #c9ced8;color:#222;font-size:12px;line-height:18px;letter-spacing:-1.2px;text-indent:-3px;text-align:center;font-family:'Liberation Mono',monospace">LW&amp;</div>
<div class="a" style="left:445px;top:939px;width:35px;height:14px;border-left:1px solid #c9ced8;color:#222;font-size:12px;line-height:18px;letter-spacing:-1.2px;text-indent:-3px;text-align:center;font-family:'Liberation Mono',monospace">RSI</div>
<div class="a" style="left:480px;top:939px;width:28px;height:14px;border-left:1px solid #c9ced8;color:#222;font-size:12px;line-height:18px;letter-spacing:-1.2px;text-indent:-3px;text-align:center;font-family:'Liberation Mono',monospace">CR</div>
<div class="a" style="left:508px;top:939px;width:34px;height:14px;border-left:1px solid #c9ced8;color:#222;font-size:12px;line-height:18px;letter-spacing:-1.2px;text-indent:-3px;text-align:center;font-family:'Liberation Mono',monospace">PSY</div>
<div class="a" style="left:542px;top:939px;width:40px;height:14px;border-left:1px solid #c9ced8;color:#222;font-size:13px;line-height:14px;text-align:center;font-family:'Liberation Sans',sans-serif">设置</div>
<div class="a" style="left:582px;top:939px;width:247px;height:14px;border-left:1px solid #c9ced8;color:#222;font-size:12px;line-height:18px;letter-spacing:-1.2px;text-indent:-3px;text-align:center;font-family:'Liberation Mono',monospace"></div>
<div class="a" style="left:0;top:963px;width:829px;height:1px;background:#d0d6de"></div>
<div class="a" style="left:44px;top:964px;width:1px;height:13px;background:#d0d6de"></div>
<div class="a" style="left:10px;top:967px;font-size:13px;line-height:14px;color:#333">资讯</div>
<div class="a" style="left:741px;top:957px;width:88px;height:6px;background:#acacb4"></div><svg class="a" style="left:818px;top:957px" width="11" height="6"><path d="M11 0 L11 6 L0 6 Z" fill="#555a62"/></svg>
<div class="a" style="left:700px;top:927px;font-size:31px;line-height:30px;letter-spacing:1.8px;color:#d9e8f9;text-shadow:1.2px 1.2px 0.3px #c09a7a;font-family:'Liberation Sans',sans-serif">FX678</div>
</body></html>
